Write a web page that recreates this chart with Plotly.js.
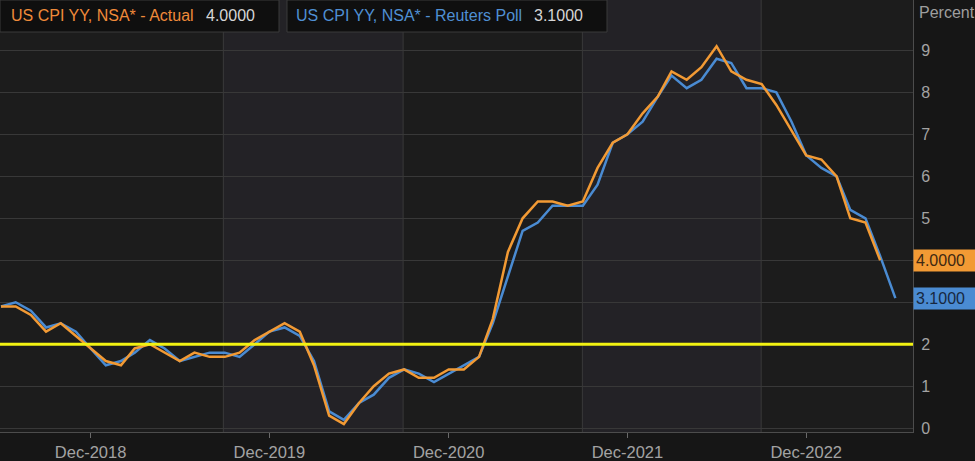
<!DOCTYPE html>
<html>
<head>
<meta charset="utf-8">
<script src="https://cdn.plot.ly/plotly-3.0.1.min.js"></script>
<style>html,body{margin:0;padding:0;background:#161616;}#chart{width:975px;height:461px;}</style>
</head>
<body>
<div id="chart"></div>
<script>
// Months Jun-2018 .. Jun-2023
const months = [
  "2018-06","2018-07","2018-08","2018-09","2018-10","2018-11","2018-12",
  "2019-01","2019-02","2019-03","2019-04","2019-05","2019-06","2019-07","2019-08","2019-09","2019-10","2019-11","2019-12",
  "2020-01","2020-02","2020-03","2020-04","2020-05","2020-06","2020-07","2020-08","2020-09","2020-10","2020-11","2020-12",
  "2021-01","2021-02","2021-03","2021-04","2021-05","2021-06","2021-07","2021-08","2021-09","2021-10","2021-11","2021-12",
  "2022-01","2022-02","2022-03","2022-04","2022-05","2022-06","2022-07","2022-08","2022-09","2022-10","2022-11","2022-12",
  "2023-01","2023-02","2023-03","2023-04","2023-05","2023-06"
];
// US CPI YY, NSA - Actual (Jun-2018 .. May-2023)
const actual = [
  2.9,2.9,2.7,2.3,2.5,2.2,1.9,
  1.6,1.5,1.9,2.0,1.8,1.6,1.8,1.7,1.7,1.8,2.1,2.3,
  2.5,2.3,1.5,0.3,0.1,0.6,1.0,1.3,1.4,1.2,1.2,1.4,
  1.4,1.7,2.6,4.2,5.0,5.4,5.4,5.3,5.4,6.2,6.8,7.0,
  7.5,7.9,8.5,8.3,8.6,9.1,8.5,8.3,8.2,7.7,7.1,6.5,
  6.4,6.0,5.0,4.9,4.0
];
// US CPI YY, NSA - Reuters Poll (Jun-2018 .. Jun-2023)
const poll = [
  2.9,3.0,2.8,2.4,2.5,2.3,1.9,
  1.5,1.6,1.8,2.1,1.9,1.6,1.7,1.8,1.8,1.7,2.0,2.3,
  2.4,2.2,1.6,0.4,0.2,0.6,0.8,1.2,1.4,1.3,1.1,1.3,
  1.5,1.7,2.5,3.6,4.7,4.9,5.3,5.3,5.3,5.8,6.8,7.0,
  7.3,7.9,8.4,8.1,8.3,8.8,8.7,8.1,8.1,8.0,7.3,6.5,
  6.2,6.0,5.2,5.0,4.1,3.1
];
const tickDates = ["2018-12-01","2019-12-01","2020-12-01","2021-12-01","2022-12-01"];
const tickLabels = ["Dec-2018","Dec-2019","Dec-2020","Dec-2021","Dec-2022"];
const yTicks = [0,1,2,3,4,5,6,7,8,9];
const target = 2;
const actualName = "US CPI YY, NSA* - Actual";
const pollName = "US CPI YY, NSA* - Reuters Poll";

const lastActual = actual[actual.length-1];
const lastPoll = poll[poll.length-1];

// y tick labels hidden behind the last-value boxes
const yTickText = yTicks.map(t => (Math.abs(t-lastActual) < 0.5 || Math.abs(t-lastPoll) < 0.5) ? "" : String(t));

const ORANGE = "#f29a34";
const BLUE = "#4a8bd2";
const W = 913; // plot width in px
const H = 432;
const FONT = "Liberation Sans, Arial, sans-serif";

const bandEdges = ["2019-08-29","2020-08-30","2021-08-31","2022-08-31"];

const shapes = [];
shapes.push({type:"rect", xref:"x", yref:"paper", x0:bandEdges[0], x1:bandEdges[1], y0:0, y1:1, fillcolor:"#232226", line:{width:0}, layer:"below"});
shapes.push({type:"rect", xref:"x", yref:"paper", x0:bandEdges[2], x1:bandEdges[3], y0:0, y1:1, fillcolor:"#232226", line:{width:0}, layer:"below"});
bandEdges.forEach(d => shapes.push({type:"line", xref:"x", yref:"paper", x0:d, x1:d, y0:0, y1:1, line:{color:"#3a3a3a", width:1}, layer:"below"}));
shapes.push({type:"line", xref:"paper", yref:"y", x0:0, x1:1, y0:target, y1:target, line:{color:"#f2f212", width:3}, layer:"above"});
shapes.push({type:"rect", xref:"paper", yref:"paper", x0:0, x1:279/W, y0:1-32/H, y1:1, fillcolor:"#0f0f0f", line:{color:"#3a3a3a", width:1}, layer:"above"});
shapes.push({type:"rect", xref:"paper", yref:"paper", x0:287/W, x1:607/W, y0:1-32/H, y1:1, fillcolor:"#0f0f0f", line:{color:"#3a3a3a", width:1}, layer:"above"});

const legFont = {family:FONT, size:16};
const annotations = [
  {xref:"paper", yref:"paper", x:9/W, y:1-16/H, xanchor:"left", yanchor:"middle", showarrow:false, text:actualName, font:Object.assign({color:"#ef8a3a"}, legFont)},
  {xref:"paper", yref:"paper", x:204/W, y:1-16/H, xanchor:"left", yanchor:"middle", showarrow:false, text:lastActual.toFixed(4), font:Object.assign({color:"#d6d6d6"}, legFont)},
  {xref:"paper", yref:"paper", x:294/W, y:1-16/H, xanchor:"left", yanchor:"middle", showarrow:false, text:pollName, font:Object.assign({color:"#4f8fd4"}, legFont)},
  {xref:"paper", yref:"paper", x:532/W, y:1-16/H, xanchor:"left", yanchor:"middle", showarrow:false, text:lastPoll.toFixed(4), font:Object.assign({color:"#d6d6d6"}, legFont)},
  {xref:"paper", yref:"paper", x:1, xshift:4, y:1, yshift:-2, xanchor:"left", yanchor:"top", showarrow:false, text:"Percent", font:{family:FONT, size:16, color:"#9e9e9e"}},
  {xref:"paper", yref:"y", x:1, xanchor:"left", y:lastActual, yanchor:"middle", showarrow:false, text:lastActual.toFixed(4), bgcolor:ORANGE, width:58, height:17, borderpad:2, align:"left", font:{family:FONT, size:16, color:"#3e2812"}},
  {xref:"paper", yref:"y", x:1, xanchor:"left", y:lastPoll, yanchor:"middle", showarrow:false, text:lastPoll.toFixed(4), bgcolor:BLUE, width:58, height:17, borderpad:2, align:"left", font:{family:FONT, size:16, color:"#172840"}}
];

const traces = [
  {x:months, y:poll, type:"scatter", mode:"lines", name:pollName, line:{color:BLUE, width:2.5}, hoverinfo:"skip"},
  {x:months.slice(0, actual.length), y:actual, type:"scatter", mode:"lines", name:actualName, line:{color:ORANGE, width:2.5}, hoverinfo:"skip"}
];

const layout = {
  width:975, height:461,
  margin:{l:0, r:62, t:0, b:29, pad:0},
  paper_bgcolor:"#161616",
  plot_bgcolor:"#1c1c1c",
  showlegend:false,
  xaxis:{
    type:"date", range:["2018-05-30","2023-07-07"],
    tickvals:tickDates, ticktext:tickLabels,
    ticks:"outside", ticklen:5, tickcolor:"#6a6a6a", tickwidth:1,
    showgrid:false, zeroline:false,
    showline:true, linecolor:"#4c4c4c", linewidth:1,
    tickfont:{family:FONT, size:16.5, color:"#a3a3a3"},
    fixedrange:true
  },
  yaxis:{
    side:"right", range:[-0.09, 10.2],
    tickvals:yTicks, ticktext:yTickText, ticks:"", ticklabelstandoff:4,
    showgrid:true, gridcolor:"#383838", gridwidth:1, zeroline:false,
    showline:true, linecolor:"#4c4c4c", linewidth:1,
    tickfont:{family:FONT, size:16, color:"#a3a3a3"},
    fixedrange:true
  },
  shapes:shapes,
  annotations:annotations
};

Plotly.newPlot("chart", traces, layout, {displayModeBar:false, staticPlot:true});
</script>
</body>
</html>
